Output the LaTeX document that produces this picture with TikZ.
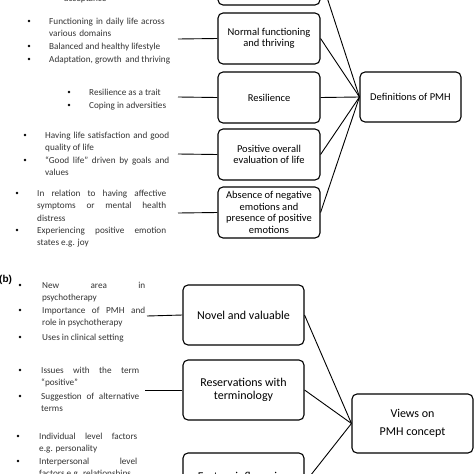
\documentclass[tikz,border=0pt]{standalone}
\usepackage{fontspec}
\setmainfont{Carlito}
\newfontfamily\labfont{Liberation Sans}
\definecolor{txt}{HTML}{333333}
\begin{document}
\begin{tikzpicture}[x=1pt,y=-1pt,
  box/.style={draw, rounded corners=5pt, line width=1.1pt, align=center, inner sep=0pt, font=\fontsize{10.5}{11.5}\selectfont, text=black},
  bbox/.style={box, font=\fontsize{12}{13.5}\selectfont},
  itm/.style={anchor=base west, inner sep=0pt, font=\fontsize{9.2}{12.5}\selectfont, text=txt, align=justify},
  itml/.style={itm, align=left},
  bul/.style={circle, fill=black, inner sep=0pt, minimum size=2.6pt},
  conn/.style={line width=0.9pt}]
\useasboundingbox (0,0) rectangle (474,474);

% ---------- (a) ----------
\node[itml] (acc) at (64,1) {acceptance};

\node[box, minimum width=102pt, minimum height=55pt] (topbox) at (269,-22.5) {};
\node[box, minimum width=102pt, minimum height=51pt] (normal) at (269,38.5) {Normal functioning\\and thriving};
\node[box, minimum width=102pt, minimum height=51pt] (resil) at (269,97.5) {Resilience};
\node[box, minimum width=102pt, minimum height=51pt] (posev) at (269,154.5) {Positive overall\\evaluation of life};
\node[box, minimum width=102pt, minimum height=51pt] (absen) at (269,212.5) {Absence of negative\\emotions and\\presence of positive\\emotions};
\node[box, minimum width=101pt, minimum height=50pt] (defs) at (410.5,97) {Definitions of PMH};

% group 1
\node[bul] (b11) at (29,21) {};
\node[bul] (b12) at (29,46) {};
\node[bul] (b13) at (29,59) {};
\node[itml, text width=125pt] (t11) at (49,24) {Functioning in daily life across\\various domains};
\node[itml] (t12) at (49,49) {Balanced and healthy lifestyle};
\node[itml] (t13) at (49,62) {Adaptation, growth\, and thriving};
\coordinate (g1) at (178,39);

% group 2
\node[bul] (b21) at (69,92) {};
\node[bul] (b22) at (69,105) {};
\node[itml] (t21) at (89,95) {Resilience as a trait};
\node[itml] (t22) at (89,108) {Coping in adversities};
\coordinate (g2) at (178,97);

% group 3
\node[bul] (b31) at (25,135) {};
\node[bul] (b32) at (25,160) {};
\node[itm, text width=124pt] (t31) at (45,138) {Having life satisfaction and good\linebreak quality of life};
\node[itm, text width=124pt] (t32) at (45,163) {“Good life” driven by goals and\linebreak values};
\coordinate (g3) at (178,154);

% group 4
\node[bul] (b41) at (17,193) {};
\node[bul] (b42) at (17,230) {};
\node[itm, text width=129pt] (t41) at (37,196) {In relation to having affective\linebreak symptoms or mental health\linebreak distress};
\node[itm, text width=129pt] (t42) at (37,233) {Experiencing positive emotion\linebreak states e.g. joy};
\coordinate (g4) at (178,213);

\draw[conn] (g1) -- (normal.west);
\draw[conn] (g2) -- (resil.west);
\draw[conn] (g3) -- (posev.west);
\draw[conn] (g4) -- (absen.west);
\draw[conn] (topbox.east) -- (defs.west);
\draw[conn] (normal.east) -- (defs.west);
\draw[conn] (resil.east) -- (defs.west);
\draw[conn] (posev.east) -- (defs.west);
\draw[conn] (absen.east) -- (defs.west);

% ---------- (b) ----------
\node[anchor=base west, inner sep=0pt, font=\labfont\bfseries\fontsize{10}{12}\selectfont] (lblb) at (-1,282) {(b)};

\node[bbox, minimum width=121pt, minimum height=60pt] (novel) at (243.5,315) {Novel and valuable};
\node[bbox, minimum width=121pt, minimum height=60pt] (reserv) at (243.5,390) {Reservations with\\terminology};
\node[bbox, minimum width=121pt, minimum height=59pt] (views) at (412.5,423.5) {Views on\\[5pt]PMH concept};
\node[bbox, minimum width=121pt, minimum height=60pt] (factors) at (243.5,483) {Factors influencing\\PMH};

% group 5
\node[bul] (b51) at (20,285) {};
\node[bul] (b52) at (20,310) {};
\node[bul] (b53) at (20,337) {};
\node[itm, text width=103pt] (t51) at (42,288) {New area in\linebreak psychotherapy};
\node[itm, text width=103pt] (t52) at (42,313) {Importance of PMH and\linebreak role in psychotherapy};
\node[itml] (t53) at (42,340) {Uses in clinical setting};
\coordinate (g5) at (147,316);

% group 6
\node[bul] (b61) at (20,370) {};
\node[bul] (b62) at (20,396) {};
\node[itm, text width=98pt] (t61) at (41,373) {Issues with the term\linebreak “positive”};
\node[itm, text width=98pt] (t62) at (41,399) {Suggestion of alternative\linebreak terms};
\coordinate (g6) at (145,390);

% group 7
\node[bul] (b71) at (18,436) {};
\node[bul] (b72) at (18,461) {};
\node[itm, text width=98pt] (t71) at (39,439) {Individual level factors\linebreak e.g. personality};
\node[itm, text width=98pt] (t72) at (39,464) {Interpersonal level\linebreak factors e.g. relationships};

\draw[conn] (g5) -- (novel.west);
\draw[conn] (g6) -- (reserv.west);
\draw[conn] (novel.east) -- (views.west);
\draw[conn] (reserv.east) -- (views.west);
\draw[conn] (factors.east) -- (views.west);
\end{tikzpicture}
\end{document}
